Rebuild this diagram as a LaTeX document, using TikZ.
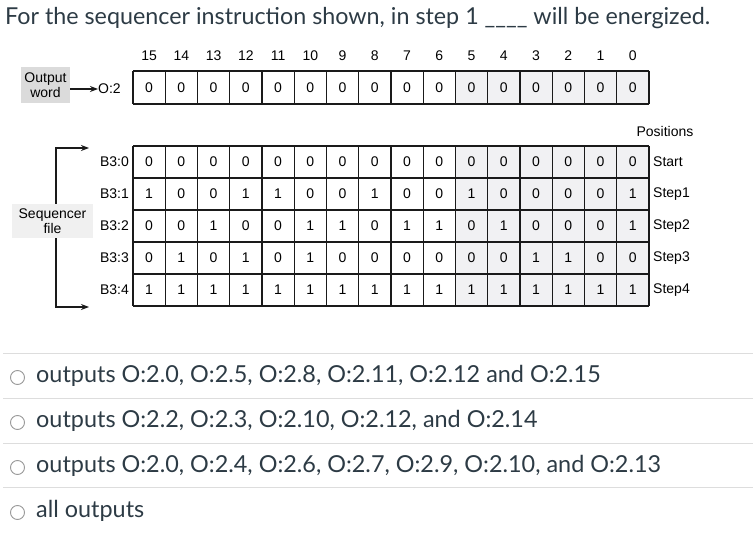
\documentclass[tikz,border=0pt]{standalone}
\usepackage{fontspec}
\setmainfont{Lato}
\newfontfamily\arialf{Liberation Sans}
\usetikzlibrary{arrows.meta}
\definecolor{ink}{HTML}{2D3B45}
\definecolor{gridc}{HTML}{1A1A1A}
\definecolor{sepc}{HTML}{DDDDDD}
\definecolor{shadec}{HTML}{F1F1F3}
\tikzset{
  dtxt/.style={font=\arialf\fontsize{14}{16}\selectfont, text=black, inner sep=0pt},
  thinv/.style={draw=gridc, line width=1.1pt},
  thickv/.style={draw=gridc, line width=2pt},
  hrule/.style={draw=gridc, line width=1.7pt},
  qtxt/.style={font=\fontsize{23.3}{27}\selectfont, text=ink, inner sep=0pt, anchor=base west},
  atxt/.style={font=\fontsize{23.4}{27}\selectfont, text=ink, inner sep=0pt, anchor=base west},
  radio/.style={draw=gray!80, line width=0.9pt, circle, minimum size=14pt, inner sep=0pt},
  sepline/.style={draw=sepc, line width=1pt},
  arr/.style={-{Stealth[length=8pt,width=6pt]}, line width=1.6pt, draw=gridc},
  lbox/.style={dtxt, align=center, fill=#1, inner sep=0pt}
}
\begin{document}
\begin{tikzpicture}[x=1pt,y=-1pt]
\useasboundingbox (0,0) rectangle (753,535);
% title
\node[qtxt] (title) at (5,24.5) {For the sequencer instruction shown, in step 1 \_\_\_\_ will be energized.};
% ---------- output word ----------
\fill[shadec] (455.5,71) rectangle (649,104);
\foreach \c in {1,2,3,5,6,7,9,10,11,13,14,15} \draw[thinv] ({133+32.25*\c},71) -- ({133+32.25*\c},104);
\foreach \c in {0,4,8,12,16} \draw[thickv] ({133+32.25*\c},71) -- ({133+32.25*\c},104);
\draw[hrule] (133,71) -- (649,71);
\draw[hrule] (133,104) -- (649,104);
\foreach \c in {0,...,15} {
  \pgfmathtruncatemacro\bitn{15-\c}
  \node[dtxt] (bitnum-\c) at ({149.125+32.25*\c},56) {\bitn};
  \node[dtxt] (ow-\c) at ({149.125+32.25*\c},88) {0};
}
\node[lbox=gray!28, text width=49pt, minimum height=36pt] (outword) at (45.5,85) {Output\\[-1pt]word};
\node[dtxt, anchor=west] (o2) at (98,89) {O:2};
\draw[arr] (outword.east |- o2.west) -- (o2.west);
% ---------- sequencer file ----------
\fill[shadec] (455.5,146) rectangle (649,306);
\foreach \c in {1,2,3,5,6,7,9,10,11,13,14,15} \draw[thinv] ({133+32.25*\c},146) -- ({133+32.25*\c},306);
\foreach \c in {0,4,8,12,16} \draw[thickv] ({133+32.25*\c},146) -- ({133+32.25*\c},306);
\foreach \r in {0,...,5} \draw[hrule] (133,{146+32*\r}) -- (649,{146+32*\r});
\foreach \r/\bits/\lab in {
  0/{0,0,0,0,0,0,0,0,0,0,0,0,0,0,0,0}/Start,
  1/{1,0,0,1,1,0,0,1,0,0,1,0,0,0,0,1}/Step1,
  2/{0,0,1,0,0,1,1,0,1,1,0,1,0,0,0,1}/Step2,
  3/{0,1,0,1,0,1,0,0,0,0,0,0,1,1,0,0}/Step3,
  4/{1,1,1,1,1,1,1,1,1,1,1,1,1,1,1,1}/Step4} {
  \node[dtxt, anchor=east] (row-\r) at (129,{162+32*\r}) {B3:\r};
  \node[dtxt, anchor=west] (pos-\r) at (653,{162+32*\r}) {\lab};
  \foreach \b [count=\c from 0] in \bits {
    \node[dtxt] (cell-\r-\c) at ({149.125+32.25*\c},{162+32*\r}) {\b};
  }
}
\node[dtxt] (positions) at (665,131) {Positions};
\node[lbox=gray!12, text width=81pt, minimum height=34pt] (seqfile) at (52.5,221) {Sequencer\\[-1pt]file};
\coordinate (toptip) at (89,148);
\coordinate (bottip) at (89,307);
\draw[arr] (56,0 |- seqfile.north) -- (56,148) -- (toptip);
\draw[arr] (56,0 |- seqfile.south) -- (56,307) -- (bottip);
% ---------- answers ----------
\foreach \y in {353,398,443,487} \draw[sepline] (3,\y) -- (753,\y);
\foreach \i/\yb/\t in {
  1/382/{outputs O:2.0, O:2.5, O:2.8, O:2.11, O:2.12 and O:2.15},
  2/427/{outputs O:2.2, O:2.3, O:2.10, O:2.12, and O:2.14},
  3/472/{outputs O:2.0, O:2.4, O:2.6, O:2.7, O:2.9, O:2.10, and O:2.13},
  4/517/{all outputs}} {
  \node[radio] (radio-\i) at (17.5,{\yb-4.5}) {};
  \node[atxt] (ans-\i) at (36,\yb) {\t};
}
\end{tikzpicture}
\end{document}
